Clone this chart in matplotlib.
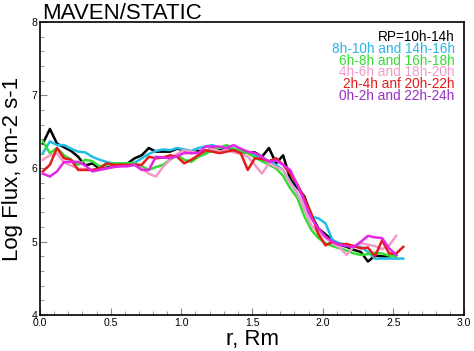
import numpy as np
import matplotlib
matplotlib.use('Agg')
import matplotlib.pyplot as plt
from matplotlib.ticker import MultipleLocator

plt.rcParams['font.family'] = ['Liberation Sans', 'DejaVu Sans']

r = [0.02, 0.07, 0.12, 0.17, 0.22, 0.27, 0.32, 0.37, 0.42, 0.47,
     0.52, 0.57, 0.62, 0.67, 0.72, 0.77, 0.82, 0.87, 0.92, 0.97,
     1.02, 1.07, 1.12, 1.17, 1.22, 1.27, 1.32, 1.37, 1.42, 1.47,
     1.52, 1.57, 1.62, 1.67, 1.72, 1.77, 1.82, 1.87, 1.92, 1.97,
     2.02, 2.07, 2.12, 2.17, 2.22, 2.27, 2.32, 2.37, 2.42, 2.47,
     2.52, 2.57]

flux_10_14 = [6.34, 6.54, 6.34, 6.29, 6.24, 6.16, 6.04, 6.07, 6.00, 6.01,
              6.03, 6.04, 6.07, 6.14, 6.18, 6.28, 6.23, 6.23, 6.23, 6.27,
              6.25, 6.21, 6.24, 6.23, 6.28, 6.26, 6.27, 6.24, 6.22, 6.22,
              6.22, 6.16, 6.28, 6.07, 6.18, 5.86, 5.74, 5.62, 5.36, 5.18,
              5.10, 5.02, 4.96, 4.93, 4.89, 4.86, 4.73, 4.81, 4.80, 4.80,
              4.82]
flux_8_16 = [6.21, 6.37, 6.32, 6.32, 6.27, 6.23, 6.22, 6.16, 6.12, 6.09,
             6.07, 6.07, 6.07, 6.08, 6.14, 6.20, 6.24, 6.26, 6.25, 6.28,
             6.26, 6.24, 6.28, 6.30, 6.32, 6.28, 6.30, 6.27, 6.25, 6.22,
             6.18, 6.15, 6.10, 6.05, 5.98, 5.82, 5.66, 5.45, 5.34, 5.32,
             5.25, 5.02, 4.98, 4.96, 4.94, 4.93, 4.86, 4.77, 4.77, 4.77,
             4.77, 4.77]
flux_6_18 = [6.37, 6.21, 6.28, 6.18, 6.12, 6.05, 6.12, 6.10, 6.03, 6.05,
             6.07, 6.07, 6.07, 6.07, 6.03, 5.98, 6.02, 6.05, 6.12, 6.18,
             6.12, 6.09, 6.16, 6.20, 6.25, 6.28, 6.32, 6.27, 6.24, 6.21,
             6.15, 6.10, 6.05, 6.00, 5.90, 5.73, 5.60, 5.35, 5.16, 5.05,
             4.98, 4.94, 4.91, 4.88, 4.84, 4.82, 4.83, 4.85, 4.84, 4.81,
             4.80]
flux_4_20 = [6.12, 6.18, 6.21, 6.08, 6.04, 6.00, 5.99, 5.98, 5.99, 6.00,
             6.02, 6.03, 6.04, 6.05, 6.00, 5.93, 5.89, 6.02, 6.12, 6.20,
             6.25, 6.23, 6.21, 6.24, 6.27, 6.23, 6.26, 6.22, 6.20, 6.16,
             6.05, 5.93, 6.07, 6.02, 5.98, 5.80, 5.66, 5.45, 5.22, 5.12,
             5.05, 4.98, 4.92, 4.82, 4.94, 4.98, 4.96, 4.94, 4.90, 4.95,
             5.08]
flux_2_22 = [5.96, 6.05, 6.28, 6.14, 6.12, 5.98, 5.98, 5.98, 6.00, 6.07,
             6.05, 6.05, 6.05, 6.05, 6.05, 6.16, 6.14, 6.15, 6.18, 6.16,
             6.07, 6.12, 6.18, 6.25, 6.23, 6.21, 6.23, 6.25, 6.21, 5.98,
             6.14, 6.13, 6.10, 6.14, 6.05, 5.93, 5.78, 5.60, 5.38, 5.10,
             4.95, 5.00, 4.96, 4.97, 4.94, 4.91, 4.92, 4.80, 5.02, 4.84,
             4.84, 4.93]
flux_0_24 = [5.93, 5.89, 5.96, 6.09, 6.09, 6.09, 6.04, 5.96, 5.98, 6.00,
             6.02, 6.03, 6.03, 6.05, 5.98, 5.98, 6.16, 6.15, 6.14, 6.17,
             6.21, 6.21, 6.21, 6.30, 6.30, 6.30, 6.28, 6.32, 6.27, 6.23,
             6.21, 6.16, 6.09, 6.11, 6.05, 5.98, 5.78, 5.55, 5.32, 5.18,
             5.07, 5.00, 4.96, 4.94, 4.93, 5.00, 5.08, 5.06, 5.05, 4.91,
             4.82]

series = [flux_10_14, flux_8_16, flux_6_18, flux_4_20, flux_2_22, flux_0_24]
labels = ['RP=10h-14h', '8h-10h and 14h-16h', '6h-8h and 16h-18h',
          '4h-6h and 18h-20h', '2h-4h anf 20h-22h', '0h-2h and 22h-24h']
line_colors = ['#000000', '#22bde6', '#33dd33', '#f29ac8', '#e41b1b', '#e626e6']
text_colors = ['#000000', '#2bb5e8', '#33dd33', '#f29ac8', '#e41b1b', '#9a2fc8']

fig = plt.figure(figsize=(4.74, 3.51), dpi=100)
ax = fig.add_axes([0.0844, 0.1026, 0.8946, 0.8347])

for vals, c in zip(series, line_colors):
    ax.plot(r[:len(vals)], vals, color=c, lw=1.8)

ax.set_xlim(0, 3)
ax.set_ylim(4, 8)
ax.xaxis.set_major_locator(MultipleLocator(0.5))
ax.xaxis.set_minor_locator(MultipleLocator(0.1))
ax.yaxis.set_major_locator(MultipleLocator(1))
ax.yaxis.set_minor_locator(MultipleLocator(0.2))
ax.xaxis.set_major_formatter(lambda x, pos: f'{x:.1f}')
ax.tick_params(which='both', direction='in', top=False, right=False,
               labelsize=7.5, pad=2, color='#888888')
ax.tick_params(which='major', length=5)
ax.tick_params(which='minor', length=3)
for s in ax.spines.values():
    s.set_linewidth(1.2)

ax.set_xlabel('r, Rm', fontsize=16, labelpad=1)
ax.set_ylabel('Log Flux, cm-2 s-1', fontsize=16, labelpad=6)
fig.text(0.088, 0.946, 'MAVEN/STATIC', fontsize=16, ha='left', va='baseline')

for i, (lab, c) in enumerate(zip(labels, text_colors)):
    ax.text(0.978, 0.949 - i * 0.0404, lab, color=c, fontsize=9.8,
            ha='right', va='center', transform=ax.transAxes)

fig.savefig('out.png', dpi=100)
